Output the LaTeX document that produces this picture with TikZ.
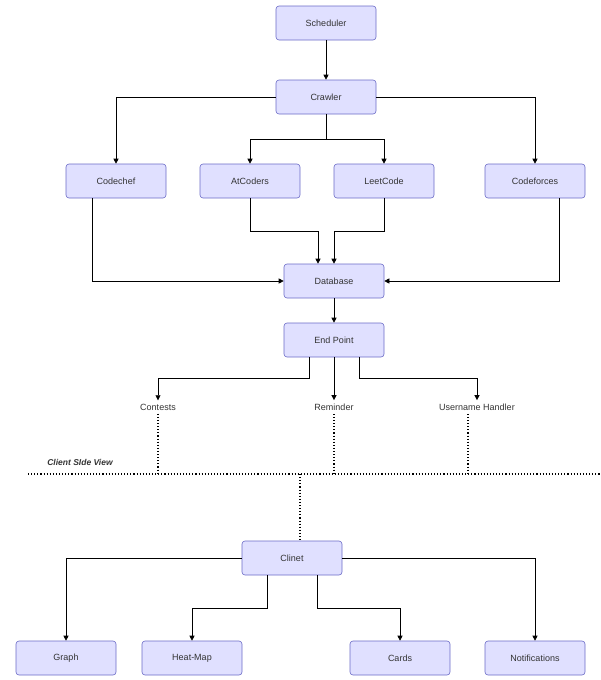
\documentclass[tikz,border=0pt]{standalone}
\usepackage{fontspec}
\setmainfont{Liberation Sans}
\usetikzlibrary{arrows.meta}
\begin{document}
\begin{tikzpicture}[x=1pt,y=-1pt,
  box/.style={draw=blue!45!gray!80, fill=blue!12, rounded corners=3pt, minimum width=100pt, minimum height=34pt, line width=0.6pt, font=\fontsize{9}{11}\selectfont, text=black!80},
  lbl/.style={font=\fontsize{9}{11}\selectfont, text=black!80},
  arr/.style={-{Triangle[length=5pt,width=5pt]}, line width=0.6pt},
  dot/.style={dotted, line width=1.1pt}]
\useasboundingbox (0,0) rectangle (600,680);
\node[box] (sch) at (326,23) {Scheduler};
\node[box] (cra) at (326,97) {Crawler};
\node[box] (cc) at (116,181) {Codechef};
\node[box] (at) at (250,181) {AtCoders};
\node[box] (lc) at (384,181) {LeetCode};
\node[box] (cf) at (535,181) {Codeforces};
\node[box] (db) at (334,281) {Database};
\node[box] (ep) at (334,340) {End Point};
\node[lbl] (con) at (158,407) {Contests};
\node[lbl] (rem) at (334,407) {Reminder};
\node[lbl] (usr) at (477,407) {Username Handler};
\node[font=\fontsize{8.5}{10}\selectfont\bfseries\itshape, text=black!80] (csv) at (80,462) {Client SIde View};
\node[box] (cl) at (292,558) {Clinet};
\node[box] (gr) at (66,658) {Graph};
\node[box] (hm) at (192,658) {Heat-Map};
\node[box] (ca) at (400,658) {Cards};
\node[box] (no) at (535,658) {Notifications};
\coordinate (dl) at (28,474);
\coordinate (dr) at (600,474);

\draw[arr] (sch) -- (cra);
\draw[arr] (cra.west) -| (cc.north);
\draw[arr] (cra.east) -| (cf.north);
\draw[arr] (cra.south) -- ++(0,25) -| (at.north);
\draw[arr] (cra.south) -- ++(0,25) -| (lc.north);
\draw[arr] ([xshift=-24pt]cc.south) |- (db.west);
\draw[arr] ([xshift=24pt]cf.south) |- (db.east);
\draw[arr] (at.south) -- ++(0,33) -| ([xshift=-16pt]db.north);
\draw[arr] (lc.south) -- ++(0,33) -| (db.north);
\draw[arr] (db) -- (ep);
\draw[arr] ([xshift=-25pt]ep.south) -- ++(0,21) -| (con.north);
\draw[arr] (ep.south) -- (rem.north);
\draw[arr] ([xshift=25pt]ep.south) -- ++(0,21) -| (usr.north);
\draw[dot] (dl) -- (dr);
\draw[dot] (con.south) -- (con.south |- dl);
\draw[dot] (rem.south) -- (rem.south |- dl);
\draw[dot] ([xshift=-9pt]usr.south) -- ([xshift=-9pt]usr.south |- dl);
\draw[dot] ([xshift=8pt]cl.north |- dl) -- ([xshift=8pt]cl.north);
\draw[arr] (cl.west) -| (gr.north);
\draw[arr] (cl.east) -| (no.north);
\draw[arr] ([xshift=-25pt]cl.south) -- ++(0,33) -| (hm.north);
\draw[arr] ([xshift=25pt]cl.south) -- ++(0,33) -| (ca.north);
\end{tikzpicture}
\end{document}
